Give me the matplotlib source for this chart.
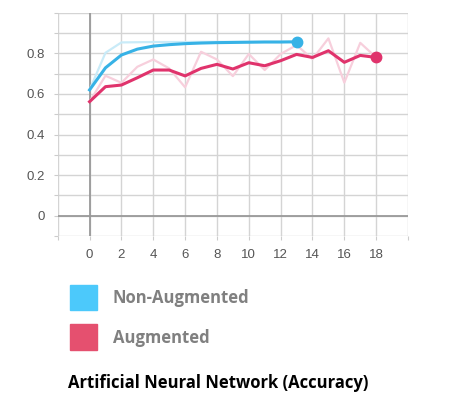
import matplotlib
matplotlib.use("Agg")
import matplotlib.pyplot as plt
from matplotlib.patches import Rectangle

# epochs and accuracy values
epochs_plain = list(range(14))
plain_raw = [0.62, 0.803, 0.854, 0.855, 0.856, 0.856, 0.856, 0.857,
             0.857, 0.857, 0.857, 0.857, 0.857, 0.857]
plain_smooth = [0.62, 0.729, 0.792, 0.821, 0.836, 0.843, 0.848, 0.851,
                0.853, 0.854, 0.855, 0.856, 0.856, 0.857]

epochs_aug = list(range(19))
aug_raw = [0.562, 0.69, 0.655, 0.734, 0.77, 0.726, 0.633, 0.808, 0.77,
           0.688, 0.797, 0.718, 0.797, 0.841, 0.772, 0.874, 0.656, 0.852, 0.78]
aug_smooth = [0.562, 0.636, 0.644, 0.68, 0.718, 0.718, 0.689, 0.726, 0.746,
              0.723, 0.754, 0.739, 0.764, 0.795, 0.78, 0.813, 0.756, 0.79, 0.78]

series_names = ["Non-Augmented", "Augmented"]
title = "Artificial Neural Network (Accuracy)"

blue = "#37b2e6"
blue_faint = "#c9ebf8"
pink = "#e0336c"
pink_faint = "#f7cfdc"

fig = plt.figure(figsize=(4.52, 3.99), dpi=100)
ax = fig.add_axes([0.1277, 0.4085, 0.775, 0.5594])

# faint raw curves first, smoothed on top
ax.plot(epochs_plain, plain_raw, color=blue_faint, lw=1.6, zorder=3)
ax.plot(epochs_aug, aug_raw, color=pink_faint, lw=1.6, zorder=3)
ax.plot(epochs_plain, plain_smooth, color=blue, lw=2.2, zorder=4)
ax.plot(epochs_aug, aug_smooth, color=pink, lw=2.2, zorder=4)
ax.plot(epochs_plain[-1], plain_smooth[-1], "o", color=blue, ms=7.5, zorder=5)
ax.plot(epochs_aug[-1], aug_smooth[-1], "o", color=pink, ms=7.5, zorder=5)

ax.set_xlim(-2, 20)
ax.set_ylim(-0.1, 1.0)

# grid lines: every 2 on x, every 0.1 on y
for gx in range(-2, 21, 2):
    ax.axvline(gx, color="#d4d4d4", lw=1.0, zorder=1)
for i in range(-1, 11):
    ax.axhline(i / 10, color="#d4d4d4", lw=1.0, zorder=1)
ax.axvline(0, color="#999999", lw=1.3, zorder=2)
ax.axhline(0, color="#999999", lw=1.3, zorder=2)

for s in ax.spines.values():
    s.set_visible(False)

ax.set_xticks(range(-2, 21, 2))
ax.set_xticklabels([""] + [str(v) for v in range(0, 19, 2)] + [""])
ax.set_yticks([i / 10 for i in range(-1, 11)])
ylabels = []
for i in range(-1, 11):
    if i in (0, 2, 4, 6, 8):
        ylabels.append("0" if i == 0 else "0.%d" % i)
    else:
        ylabels.append("")
ax.set_yticklabels(ylabels)
ax.tick_params(axis="both", length=3, color="#cccccc", labelcolor="#555555",
               labelsize=9.5, pad=6)
for lab in ax.get_xticklabels() + ax.get_yticklabels():
    lab.set_fontfamily("Liberation Sans")

# legend drawn by hand below the chart
fig.patches.append(Rectangle((70 / 452, 1 - 310 / 399), 27 / 452, 25 / 399,
                             transform=fig.transFigure, color="#4cc9fb"))
fig.patches.append(Rectangle((70 / 452, 1 - 350 / 399), 27 / 452, 26 / 399,
                             transform=fig.transFigure, color="#e5506f"))
fig.text(113 / 452, 1 - 298 / 399, series_names[0], color="#808080",
         fontsize=12, fontweight="bold", family="Open Sans", va="center")
fig.text(113 / 452, 1 - 338 / 399, series_names[1], color="#808080",
         fontsize=12, fontweight="bold", family="Open Sans", va="center")
fig.text(68 / 452, 1 - 383 / 399, title, color="black",
         fontsize=12, fontweight="bold", family="Open Sans", va="center")

fig.savefig("out.png", dpi=100)
